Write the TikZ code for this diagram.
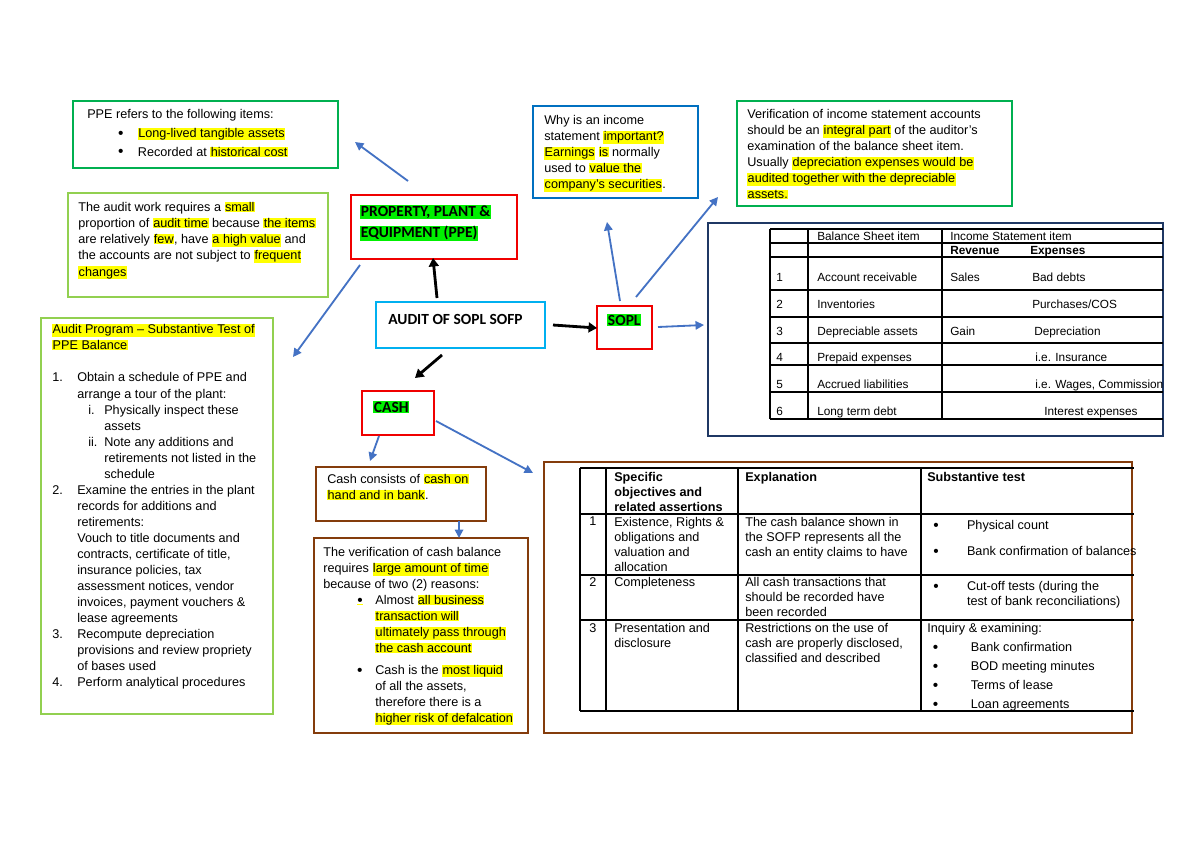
\documentclass[tikz,border=0pt]{standalone}
\usepackage{fontspec}
\setmainfont{Liberation Sans}
\newfontfamily\calib{Carlito}
\usetikzlibrary{arrows.meta}
\definecolor{gbox}{RGB}{0,176,80}
\definecolor{lgbox}{RGB}{146,208,80}
\definecolor{rbox}{RGB}{240,0,0}
\definecolor{bbox}{RGB}{0,112,192}
\definecolor{dbbox}{RGB}{31,56,100}
\definecolor{brbox}{RGB}{132,60,12}
\definecolor{cbox}{RGB}{0,176,240}
\definecolor{arr}{RGB}{68,114,196}
\definecolor{hly}{RGB}{255,255,0}
\definecolor{hlg}{RGB}{0,240,0}
\newcommand\hl[1]{{\setlength{\fboxsep}{0.3pt}\colorbox{hly}{#1}}}
\newcommand\hlg[1]{{\setlength{\fboxsep}{0.5pt}\colorbox{hlg}{#1}}}
\newcommand\bul{\smash{\raisebox{-0.5pt}{\fontsize{11}{11}\selectfont\textbullet}}}
\newcommand\itm[2]{\makebox[17.8pt][l]{#1}#2}
\newcommand\sbi[2]{\hspace*{25.6pt}\makebox[11.4pt][l]{#1}#2}
\newcommand\ind{\hspace*{17.8pt}}
\newcommand\sind{\hspace*{37pt}}
\begin{document}
\begin{tikzpicture}[x=0.025cm,y=-0.025cm,
  bx/.style={draw,line width=1.3pt},
  txt/.style={anchor=north west,align=left,inner sep=0pt,font=\fontsize{9}{11.4}\selectfont},
  ttxt/.style={anchor=base west,inner sep=0pt,font=\fontsize{8.4}{9}\selectfont},
  btxt/.style={anchor=north west,align=left,inner sep=0pt,font=\fontsize{9}{10.7}\selectfont},
  bbtxt/.style={btxt,font=\bfseries\fontsize{9}{10.7}\selectfont},
  lab/.style={txt,font=\calib\bfseries\fontsize{11}{14}\selectfont},
  barr/.style={draw=arr,line width=1.3pt,-{Triangle[length=6pt,width=6pt]}},
  karr/.style={draw=black,line width=2pt,-{Triangle[length=6pt,width=7pt]}},
  tl/.style={line width=1.1pt}]
\useasboundingbox[fill=white] (0,0) rectangle (1200,849);
% boxes
\draw[bx,draw=gbox] (73,101) rectangle (338,168);
\draw[bx,draw=lgbox] (68,193) rectangle (328,297);
\draw[bx,draw=lgbox] (41,318) rectangle (273,714);
\draw[bx,draw=rbox] (351,195) rectangle (517,259);
\draw[bx,draw=cbox] (376,302) rectangle (545,348);
\draw[bx,draw=rbox] (597,306) rectangle (652,349);
\draw[bx,draw=rbox] (362,391) rectangle (434,435);
\draw[bx,draw=bbox] (533,106) rectangle (698,198);
\draw[bx,draw=gbox] (737,101) rectangle (1012,206);
\draw[bx,draw=dbbox] (708,223) rectangle (1163,436);
\draw[bx,draw=brbox] (316,467) rectangle (486,521);
\draw[bx,draw=brbox] (314,538) rectangle (528,733);
\draw[bx,draw=brbox] (544,462) rectangle (1132,733);
% texts
\node[txt] (ppeitems) at (87,109) {PPE refers to the following items:\\[2pt]
\hspace*{22pt}\makebox[14pt][l]{\bul}\hl{Long-lived tangible assets}\\[2pt]
\hspace*{22pt}\makebox[14pt][l]{\bul}Recorded at \hl{historical cost}};
\node[txt] (auditwork) at (78,202) {The audit work requires a \hl{small}\\
proportion of \hl{audit time} because \hl{the items}\\
are relatively \hl{few}, have \hl{a high value} and\\
the accounts are not subject to \hl{frequent}\\
\hl{changes}};
\node[txt] (prog) at (52,324) {\hl{Audit Program – Substantive Test of}\\
\hl{PPE Balance}\\[11.4pt]
\itm{1.}{Obtain a schedule of PPE and}\\
\ind arrange a tour of the plant:\\
\sbi{i.}{Physically inspect these}\\
\sind assets\\
\sbi{ii.}{Note any additions and}\\
\sind retirements not listed in the\\
\sind schedule\\
\itm{2.}{Examine the entries in the plant}\\
\ind records for additions and\\
\ind retirements:\\
\ind Vouch to title documents and\\
\ind contracts, certificate of title,\\
\ind insurance policies, tax\\
\ind assessment notices, vendor\\
\ind invoices, payment vouchers \&\\
\ind lease agreements\\
\itm{3.}{Recompute depreciation}\\
\ind provisions and review propriety\\
\ind of bases used\\
\itm{4.}{Perform analytical procedures}};
\node[lab] (ppe) at (360,205) {\hlg{PROPERTY, PLANT \&}\\[1pt]\hlg{EQUIPMENT (PPE)}};
\node[lab] (audit) at (388,314) {AUDIT OF SOPL SOFP};
\node[lab] (sopl) at (607,314) {\hlg{SOPL}};
\node[lab] (cash) at (373,401) {\hlg{CASH}};
\node[txt] (why) at (544,115) {Why is an income\\
statement \hl{important?}\\
\hl{Earnings} \hl{is} normally\\
used to \hl{value the}\\
\hl{company's securities}.};
\node[txt] (verif) at (747,109) {Verification of income statement accounts\\
should be an \hl{integral part} of the auditor's\\
examination of the balance sheet item.\\
Usually \hl{depreciation expenses would be}\\
\hl{audited together with the depreciable}\\
\hl{assets.}};
\node[txt] (cashc) at (327,474) {Cash consists of \hl{cash on}\\\hl{hand and in bank}.};
\node[txt] (cashv) at (323,547) {The verification of cash balance\\
requires \hl{large amount of time}\\
because of two (2) reasons:\\
\hspace*{24pt}\makebox[13pt][l]{\hl{\bul}}Almost \hl{all business}\\
\hspace*{37pt}\hl{transaction will}\\
\hspace*{37pt}\hl{ultimately pass through}\\
\hspace*{37pt}\hl{the cash account}\\[4pt]
\hspace*{24pt}\makebox[13pt][l]{\bul}Cash is the \hl{most liquid}\\
\hspace*{37pt}of all the assets,\\
\hspace*{37pt}therefore there is a\\
\hspace*{37pt}\hl{higher risk of defalcation}};
% top table
\foreach \y in {229,243,257,290,317,343,365,392,419} \draw[tl] (770,\y) -- (1163,\y);
\foreach \x in {770,808,942} \draw[tl] (\x,229) -- (\x,419);
\node[ttxt] at (817,240) {Balance Sheet item};
\node[ttxt] at (950,240) {Income Statement item};
\node[ttxt,font=\bfseries\fontsize{8.4}{9}\selectfont] at (950,254) {Revenue};
\node[ttxt,font=\bfseries\fontsize{8.4}{9}\selectfont] at (1030,254) {Expenses};
\foreach \n/\y/\a/\b/\c/\bx in {1/281/Account receivable/Sales/Bad debts/1032,2/308/Inventories//Purchases\slash COS/1032,3/335/Depreciable assets/Gain/Depreciation/1034,4/361/Prepaid expenses//i.e. Insurance/1035,5/388/Accrued liabilities//{i.e. Wages, Commission}/1035,6/415/Long term debt//Interest expenses/1044}{
  \node[ttxt] at (776,\y) {\n};
  \node[ttxt] at (817,\y) {\a};
  \node[ttxt] at (950,\y) {\b};
  \node[ttxt] at (\bx,\y) {\c};
}
% bottom table
\foreach \y in {468,514,575,620,711} \draw[tl] (580,\y) -- (1134,\y);
\foreach \x in {580,606,738,921} \draw[tl] (\x,468) -- (\x,711);
\node[bbtxt] at (614,472) {Specific\\objectives and\\related assertions};
\node[bbtxt] at (745,472) {Explanation};
\node[bbtxt] at (927,472) {Substantive test};
\node[btxt] at (589,517) {1};
\node[btxt] at (614,517) {Existence, Rights \&\\obligations and\\valuation and\\allocation};
\node[btxt] at (745,517) {The cash balance shown in\\the SOFP represents all the\\cash an entity claims to have};
\node[btxt,font=\fontsize{9}{18.5}\selectfont] at (933,520) {\makebox[24pt][l]{\bul}Physical count\\\makebox[24pt][l]{\bul}Bank confirmation of balances};
\node[btxt] at (589,577) {2};
\node[btxt] at (614,577) {Completeness};
\node[btxt] at (745,577) {All cash transactions that\\should be recorded have\\been recorded};
\node[btxt] at (933,581) {\makebox[24pt][l]{\bul}Cut-off tests (during the\\\hspace*{24pt}test of bank reconciliations)};
\node[btxt] at (589,623) {3};
\node[btxt] at (614,623) {Presentation and\\disclosure};
\node[btxt] at (745,623) {Restrictions on the use of\\cash are properly disclosed,\\classified and described};
\node[btxt,font=\fontsize{9}{13.6}\selectfont] at (927,623) {Inquiry \& examining:\\
\hspace*{4pt}\makebox[27pt][l]{\bul}Bank confirmation\\
\hspace*{4pt}\makebox[27pt][l]{\bul}BOD meeting minutes\\
\hspace*{4pt}\makebox[27pt][l]{\bul}Terms of lease\\
\hspace*{4pt}\makebox[27pt][l]{\bul}Loan agreements};
% arrows
\coordinate (a1s) at (408,181); \coordinate (a1e) at (355,142);
\coordinate (a2s) at (360,265); \coordinate (a2e) at (293,357);
\coordinate (a3s) at (437,298); \coordinate (a3e) at (433,258);
\coordinate (a4s) at (442,355); \coordinate (a4e) at (415,378);
\coordinate (a5s) at (553,325); \coordinate (a5e) at (597,328);
\coordinate (a6s) at (620,301); \coordinate (a6e) at (607,222);
\coordinate (a7s) at (636,297); \coordinate (a7e) at (718,197);
\coordinate (a8s) at (658,327); \coordinate (a8e) at (704,325);
\coordinate (a9s) at (379,436); \coordinate (a9e) at (370,461);
\coordinate (a10s) at (436,421); \coordinate (a10e) at (533,473);
\coordinate (a11s) at (459,521); \coordinate (a11e) at (459,538);
\path[barr] (a1s) -- (a1e);
\path[barr] (a2s) -- (a2e);
\path[karr] (a3s) -- (a3e);
\path[karr] (a4s) -- (a4e);
\path[karr] (a5s) -- (a5e);
\path[barr] (a6s) -- (a6e);
\path[barr] (a7s) -- (a7e);
\path[barr] (a8s) -- (a8e);
\path[barr] (a9s) -- (a9e);
\path[barr] (a10s) -- (a10e);
\path[barr] (a11s) -- (a11e);
\end{tikzpicture}
\end{document}
